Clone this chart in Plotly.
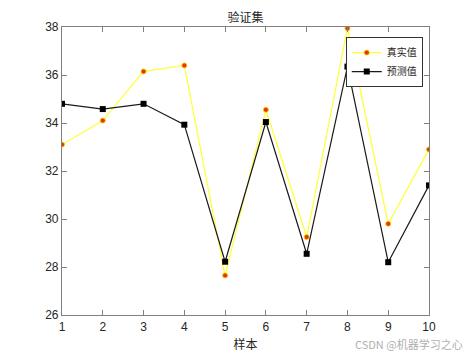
import plotly.graph_objects as go

samples = [1, 2, 3, 4, 5, 6, 7, 8, 9, 10]
real_values = [33.1, 34.1, 36.15, 36.4, 27.65, 34.55, 29.25, 37.95, 29.8, 32.9]
pred_values = [34.8, 34.58, 34.8, 33.93, 28.22, 34.04, 28.55, 36.35, 28.2, 31.4]
x_ticks = [1, 2, 3, 4, 5, 6, 7, 8, 9, 10]
y_ticks = [26, 28, 30, 32, 34, 36, 38]

fig = go.Figure()
fig.add_trace(go.Scatter(
    x=samples, y=real_values, mode="lines+markers", name="真实值",
    line=dict(color="#ffff33", width=1.2),
    marker=dict(symbol="circle", size=5, color="#e03a00", line=dict(color="#ffcc00", width=0.8)),
))
fig.add_trace(go.Scatter(
    x=samples, y=pred_values, mode="lines+markers", name="预测值",
    line=dict(color="#1a1a1a", width=1.2),
    marker=dict(symbol="square", size=6, color="black"),
))

axis_common = dict(
    showline=True, linecolor="#808080", linewidth=1.2, mirror="ticks",
    ticks="inside", ticklen=5, tickcolor="#808080", showgrid=False, zeroline=False,
    automargin=False,
    tickfont=dict(family="Liberation Sans, Arial", size=12, color="#262626"),
)

fig.update_layout(
    width=474, height=355,
    paper_bgcolor="white", plot_bgcolor="white",
    margin=dict(l=62, r=45, t=27, b=40),
    title=dict(text="验证集", x=0.5, xref="paper", xanchor="center", y=0.95, yanchor="middle",
               font=dict(family="Noto Sans CJK SC", size=12, color="#262626")),
    xaxis=dict(range=[1, 10], tickvals=x_ticks, **axis_common,
               title=dict(text="样本", standoff=8,
                          font=dict(family="Noto Sans CJK SC", size=12, color="#262626"))),
    yaxis=dict(range=[26, 38], tickvals=y_ticks, **axis_common),
    legend=dict(x=0.983, y=0.965, xanchor="right", yanchor="top",
                bgcolor="white", bordercolor="#333333", borderwidth=1,
                font=dict(family="Noto Sans CJK SC", size=10, color="#262626"),
                tracegroupgap=0, itemwidth=30),
    showlegend=True,
)

fig.add_annotation(text="CSDN @机器学习之心", x=1.0, y=-0.1, xref="paper", yref="paper",
                   xanchor="right", yanchor="middle", showarrow=False, xshift=36,
                   font=dict(family="Noto Sans CJK SC", size=11, color="#b0b0b0"))

fig.write_html("out.html")
